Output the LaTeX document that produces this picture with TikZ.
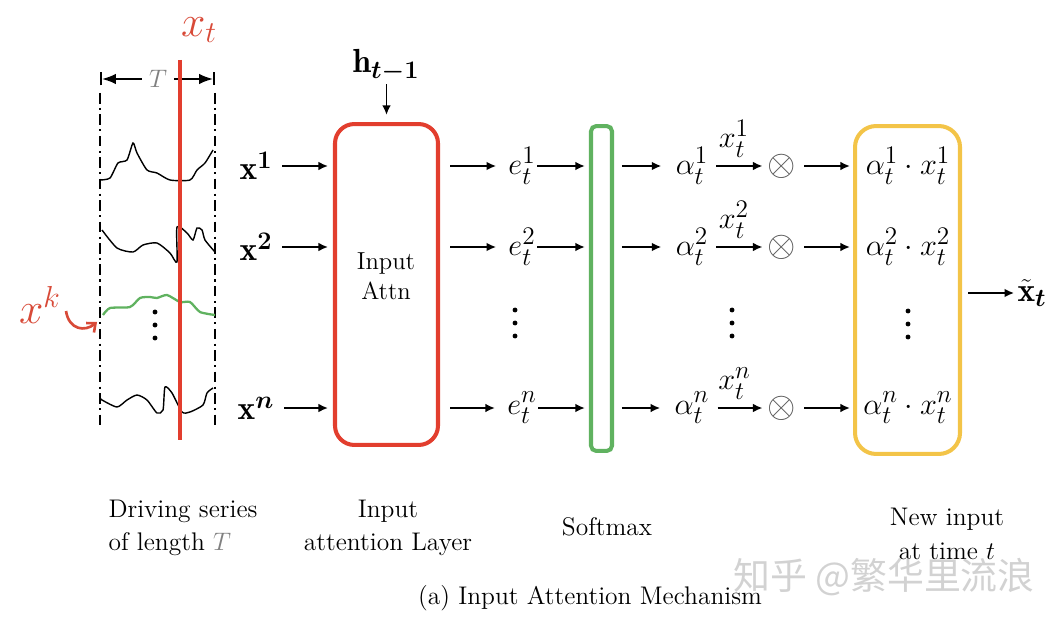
\documentclass[tikz,border=0pt]{standalone}
\usepackage{amsmath,amssymb,bm}
\usepackage{fontspec}
\newfontfamily\cjk{Noto Sans CJK SC}
\usepackage{tikz}
\usetikzlibrary{arrows.meta,calc,positioning}
\definecolor{attnred}{RGB}{226,62,46}
\definecolor{inkred}{RGB}{216,74,56}
\definecolor{softgreen}{RGB}{96,178,96}
\definecolor{newyellow}{RGB}{243,196,72}
\definecolor{crossgray}{RGB}{85,85,85}

\begin{document}
\begin{tikzpicture}[x=0.02cm,y=-0.02cm,>=Latex,
  flow/.style={-{Latex[length=5.5pt,width=5pt]},line width=1.1pt},
  sym/.style={font=\fontsize{19}{22}\selectfont,inner sep=0pt},
  word/.style={font=\fontsize{14.5}{19}\selectfont,align=center},
  ink/.style={text=inkred,font=\fontsize{26}{26}\selectfont,inner sep=0pt},
  wave/.style={line width=0.8pt},
  dashdot/.style={line width=1.1pt,dash pattern=on 6pt off 2.5pt on 1.2pt off 2.5pt}]
  \useasboundingbox (0,0) rectangle (1060,621);

  \draw[dashdot] (100,93) -- (100,425);
  \draw[dashdot] (215,93) -- (215,425);
  \draw[|<->|,line width=1.1pt] (100,79) -- (215,79);
  \node[fill=white,inner sep=4pt,text=gray,font=\fontsize{14}{16}\selectfont] (T) at (158,79) {$T$};
  \draw[wave] plot[smooth,tension=0.4] coordinates {(100,180) (110,178) (118,163) (127,160) (133,143) (137,153) (147,170) (157,173) (170,180) (190,180) (197,170) (205,163) (213,150)};
  \draw[wave] plot[smooth,tension=0.4] coordinates {(102,230) (117,248) (133,252) (143,245) (157,243) (170,253) (177,262) (177,227) (187,233) (193,240) (197,228) (202,230) (205,240) (215,252)};
  \draw[wave,softgreen,line width=1.3pt] plot[smooth,tension=0.4] coordinates {(103,315) (110,308) (130,307) (140,298) (150,297) (157,298) (167,295) (180,302) (190,302) (200,312) (215,315)};
  \draw[wave] plot[smooth,tension=0.4] coordinates {(100,398) (102,400) (117,407) (127,400) (137,395) (147,400) (157,413) (163,410) (165,387) (172,393) (182,412) (190,412) (203,405) (207,393) (213,388)};
  \draw[attnred,line width=2.3pt] (180,60) -- (180,440);
  \node[ink] (xtink) at (199,30) {$x_t$};
  \node[ink] (xkink) at (40,305) {$x^k$};
  \draw[inkred,line width=1.5pt,-{Straight Barb[length=4pt,width=7pt]}] (66,311) .. controls (69,330) and (85,332) .. (97,322);

  \node[draw=attnred,line width=2.3pt,rounded corners=11pt,minimum width=2.06cm,minimum height=6.42cm] (attn) at (386.5,284.5) {};
  \node[word,font=\fontsize{14}{17}\selectfont] (attnlbl) at (386,276) {Input\\Attn};
  \node[draw=softgreen,line width=2.3pt,rounded corners=3pt,minimum width=0.42cm,minimum height=6.5cm] (soft) at (601.5,288.5) {};
  \node[draw=newyellow,line width=2.3pt,rounded corners=12pt,minimum width=2.1cm,minimum height=6.56cm] (newin) at (907.5,290) {};

  \node[sym] (h) at (386,66) {$\mathbf{h}_{\boldsymbol{t-1}}$};
  \draw[flow,shorten <=1pt,shorten >=4pt] (h.south -| attn.north) -- (attn.north);

  \foreach \i/\y in {1/166,2/247,n/408}{
    \node[sym] (x\i) at (256,\y) {$\mathbf{x}^{\boldsymbol{\i}}$};
    \node[sym] (e\i) at (522,\y) {$e_t^{\i}$};
    \node[sym] (a\i) at (692,\y) {$\alpha_t^{\i}$};
    \node[sym,text=crossgray,font=\fontsize{21}{22}\selectfont] (m\i) at (782,\y) {$\otimes$};
    \node[sym] (p\i) at (908,\y) {$\alpha_t^{\i}\cdot x_t^{\i}$};
    \draw[flow,shorten <=5.5pt,shorten >=2.8pt] (x\i) -- (attn.west |- x\i);
    \draw[flow,shorten <=5.7pt,shorten >=6.8pt] (attn.east |- e\i) -- (e\i);
    \draw[flow,shorten <=0.8pt,shorten >=2.3pt] (e\i) -- (soft.west |- e\i);
    \draw[flow,shorten <=4.5pt,shorten >=8pt] (soft.east |- a\i) -- (a\i);
    \draw[flow,shorten <=4.5pt,shorten >=2.8pt] (a\i) -- (m\i) node[pos=0.43,above=4.5pt,sym] (lx\i) {$x_t^{\i}$};
    \draw[flow,shorten <=4.5pt,shorten >=1.7pt] (m\i) -- (newin.west |- m\i);
  }
  \foreach \cx/\cy in {155/325,515/323,732/323,908/324}{
    \foreach \dy in {-13,0,13}{
      \fill (\cx,\cy+\dy) circle (1.4pt);
    }
  }

  \node[sym] (xtil) at (1032,293) {$\tilde{\mathbf{x}}_{\boldsymbol{t}}$};
  \draw[flow,shorten <=3.4pt,shorten >=1.7pt] (newin.east |- xtil) -- (xtil);

  \node[word,align=left] (lblseries) at (183,528) {Driving series\\of length \textcolor{gray}{$T$}};
  \node[word] (lbllayer) at (388,528) {Input\\attention Layer};
  \node[word] (lblsoft) at (607,527) {Softmax};
  \node[word] (lblnew) at (947,534) {New input\\at time $t$};
  \node[font=\fontsize{14.5}{18}\selectfont] (caption) at (590,598) {(a) Input Attention Mechanism};
  \node[font=\cjk\fontsize{21}{24}\selectfont,text=gray!35] (mark) at (884,577) {知乎 @繁华里流浪};
\end{tikzpicture}
\end{document}
